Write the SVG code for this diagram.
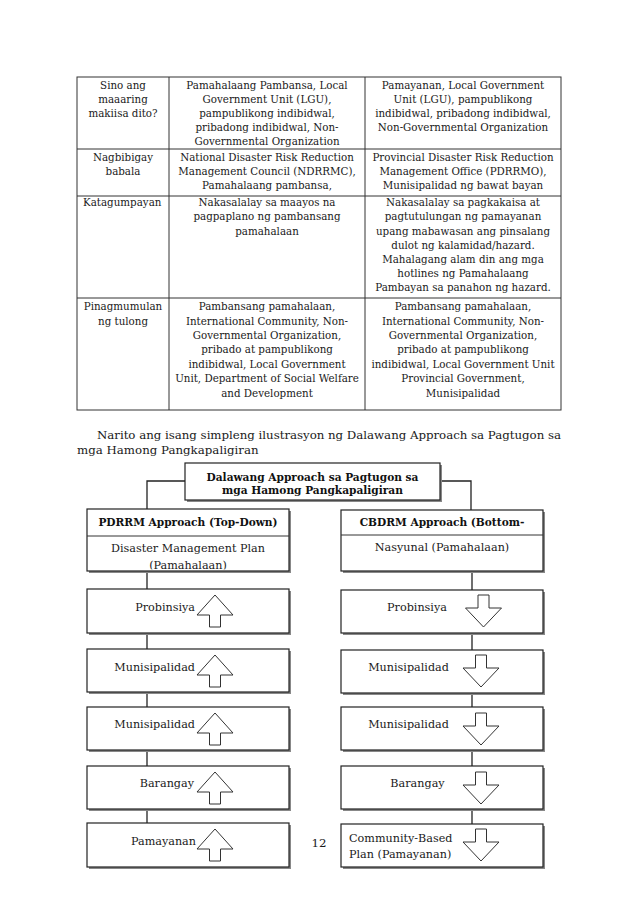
<svg xmlns="http://www.w3.org/2000/svg" width="638" height="902" viewBox="0 0 638 902">
<style>
.t{font-family:"DejaVu Serif","Liberation Serif",serif;font-size:10.3px;fill:#1a1a1a}
.c{text-anchor:middle}
.e{text-anchor:end}
.p{font-size:11.8px}
.d{font-size:11.2px}
.b{font-weight:bold;font-size:10.6px;fill:#111}
.grid{stroke:#333;stroke-width:1;fill:none}
.box{fill:#fff;stroke:#222;stroke-width:1.2}
.sh{fill:#888}
.arr{fill:#fff;stroke:#333;stroke-width:1}
.con{stroke:#222;stroke-width:1.3;fill:none}
</style>
<defs>
<clipPath id="clipL"><rect x="87" y="536" width="202" height="33.5"/></clipPath>
<path id="up" d="M0,0 L18,20 L5.5,20 L5.5,32 L-5.5,32 L-5.5,20 L-18,20 Z"/>
<path id="dn" d="M-5.5,0 L5.5,0 L5.5,13 L18,13 L0,32 L-18,13 L-5.5,13 Z"/>
</defs>
<rect width="638" height="902" fill="#fff"/>

<g id="table">
<rect class="grid" x="77" y="77" width="484" height="333"/>
<line class="grid" x1="169" y1="77" x2="169" y2="410"/>
<line class="grid" x1="365" y1="77" x2="365" y2="410"/>
<line class="grid" x1="77" y1="149" x2="561" y2="149"/>
<line class="grid" x1="77" y1="196" x2="561" y2="196"/>
<line class="grid" x1="77" y1="298" x2="561" y2="298"/>
<g class="t c">
<text x="123" y="88.5">Sino ang</text>
<text x="123" y="102.7">maaaring</text>
<text x="123" y="116.9">makiisa dito?</text>
<text x="267" y="88.5">Pamahalaang Pambansa, Local</text>
<text x="267" y="102.7">Government Unit (LGU),</text>
<text x="267" y="116.9">pampublikong indibidwal,</text>
<text x="267" y="131.1">pribadong indibidwal, Non-</text>
<text x="267" y="145.3">Governmental Organization</text>
<text x="463" y="88.5">Pamayanan, Local Government</text>
<text x="463" y="102.7">Unit (LGU), pampublikong</text>
<text x="463" y="116.9">indibidwal, pribadong indibidwal,</text>
<text x="463" y="131.1">Non-Governmental Organization</text>
<text x="123" y="161">Nagbibigay</text>
<text x="123" y="175">babala</text>
<text x="267" y="161">National Disaster Risk Reduction</text>
<text x="267" y="175">Management Council (NDRRMC),</text>
<text x="267" y="189">Pamahalaang pambansa,</text>
<text x="463" y="161">Provincial Disaster Risk Reduction</text>
<text x="463" y="175">Management Office (PDRRMO),</text>
<text x="463" y="189">Munisipalidad ng bawat bayan</text>
<text x="267" y="206.2">Nakasalalay sa maayos na</text>
<text x="267" y="220.4">pagpaplano ng pambansang</text>
<text x="267" y="234.6">pamahalaan</text>
<text x="463" y="206.2">Nakasalalay sa pagkakaisa at</text>
<text x="463" y="220.4">pagtutulungan ng pamayanan</text>
<text x="463" y="234.6">upang mabawasan ang pinsalang</text>
<text x="463" y="248.8">dulot ng kalamidad/hazard.</text>
<text x="463" y="263">Mahalagang alam din ang mga</text>
<text x="463" y="277.2">hotlines ng Pamahalaang</text>
<text x="463" y="291.4">Pambayan sa panahon ng hazard.</text>
<text x="123" y="310.2">Pinagmumulan</text>
<text x="123" y="324.6">ng tulong</text>
<text x="267" y="310.2">Pambansang pamahalaan,</text>
<text x="267" y="324.6">International Community, Non-</text>
<text x="267" y="339">Governmental Organization,</text>
<text x="267" y="353.4">pribado at pampublikong</text>
<text x="267" y="367.8">indibidwal, Local Government</text>
<text x="267" y="382.2">Unit, Department of Social Welfare</text>
<text x="267" y="396.6">and Development</text>
<text x="463" y="310.2">Pambansang pamahalaan,</text>
<text x="463" y="324.6">International Community, Non-</text>
<text x="463" y="339">Governmental Organization,</text>
<text x="463" y="353.4">pribado at pampublikong</text>
<text x="463" y="367.8">indibidwal, Local Government Unit</text>
<text x="463" y="382.2">Provincial Government,</text>
<text x="463" y="396.6">Munisipalidad</text>
</g>
<text class="t" x="83" y="206.2">Katagumpayan</text>
</g>

<g id="paragraph">
<text class="t p" x="97" y="439" textLength="464" lengthAdjust="spacing">Narito ang isang simpleng ilustrasyon ng Dalawang Approach sa Pagtugon sa</text>
<text class="t p" x="77" y="454">mga Hamong Pangkapaligiran</text>
</g>

<g id="connectors">
<polyline class="con" points="185,481 147,481 147,509"/>
<polyline class="con" points="440,481 471,481 471,510"/>
<line class="con" x1="147" y1="571" x2="147" y2="589"/>
<line class="con" x1="147" y1="633" x2="147" y2="649"/>
<line class="con" x1="147" y1="692" x2="147" y2="707"/>
<line class="con" x1="147" y1="750" x2="147" y2="766"/>
<line class="con" x1="147" y1="809" x2="147" y2="823"/>
<line class="con" x1="472" y1="571" x2="472" y2="590"/>
<line class="con" x1="472" y1="633" x2="472" y2="650"/>
<line class="con" x1="472" y1="693" x2="472" y2="707"/>
<line class="con" x1="472" y1="750" x2="472" y2="766"/>
<line class="con" x1="472" y1="809" x2="472" y2="824"/>
</g>

<g id="title">
<rect class="sh" x="187" y="465" width="255" height="37"/>
<rect class="box" x="185" y="463" width="255" height="37"/>
<text class="t b c" x="312.5" y="480.5">Dalawang Approach sa Pagtugon sa</text>
<text class="t b c" x="312.5" y="494">mga Hamong Pangkapaligiran</text>
</g>

<g id="pdrrm">
<rect class="sh" x="89" y="511" width="202" height="62"/>
<rect class="box" x="87" y="509" width="202" height="62"/>
<line class="grid" x1="87" y1="536" x2="289" y2="536"/>
<text class="t b c" x="188" y="526">PDRRM Approach (Top-Down)</text>
<g clip-path="url(#clipL)">
<text class="t d c" x="188" y="552">Disaster Management Plan</text>
<text class="t d c" x="188" y="568.5">(Pamahalaan)</text>
</g>
</g>

<g id="cbdrm">
<rect class="sh" x="343" y="512" width="202" height="61"/>
<rect class="box" x="341" y="510" width="202" height="61"/>
<line class="grid" x1="341" y1="535" x2="543" y2="535"/>
<text class="t b c" x="442" y="526">CBDRM Approach (Bottom-</text>
<text class="t d c" x="442" y="551">Nasyunal (Pamahalaan)</text>
</g>

<g id="l-probinsiya">
<rect class="sh" x="89" y="591" width="202" height="44"/>
<rect class="box" x="87" y="589" width="202" height="44"/>
<text class="t d e" x="195" y="611">Probinsiya</text>
<use href="#up" class="arr" x="215" y="595"/>
</g>
<g id="l-munisipalidad1">
<rect class="sh" x="89" y="651" width="202" height="43"/>
<rect class="box" x="87" y="649" width="202" height="43"/>
<text class="t d e" x="195" y="671">Munisipalidad</text>
<use href="#up" class="arr" x="215" y="655"/>
</g>
<g id="l-munisipalidad2">
<rect class="sh" x="89" y="709" width="202" height="43"/>
<rect class="box" x="87" y="707" width="202" height="43"/>
<text class="t d e" x="195" y="728">Munisipalidad</text>
<use href="#up" class="arr" x="215" y="713"/>
</g>
<g id="l-barangay">
<rect class="sh" x="89" y="768" width="202" height="43"/>
<rect class="box" x="87" y="766" width="202" height="43"/>
<text class="t d e" x="194" y="787">Barangay</text>
<use href="#up" class="arr" x="215" y="772"/>
</g>
<g id="l-pamayanan">
<rect class="sh" x="89" y="825" width="202" height="44"/>
<rect class="box" x="87" y="823" width="202" height="44"/>
<text class="t d e" x="196" y="845">Pamayanan</text>
<use href="#up" class="arr" x="215" y="829"/>
</g>

<g id="r-probinsiya">
<rect class="sh" x="343" y="592" width="202" height="43"/>
<rect class="box" x="341" y="590" width="202" height="43"/>
<text class="t d c" x="417" y="611">Probinsiya</text>
<use href="#dn" class="arr" x="483.5" y="595"/>
</g>
<g id="r-munisipalidad1">
<rect class="sh" x="343" y="652" width="202" height="43"/>
<rect class="box" x="341" y="650" width="202" height="43"/>
<text class="t d c" x="408.5" y="671">Munisipalidad</text>
<use href="#dn" class="arr" x="481" y="655"/>
</g>
<g id="r-munisipalidad2">
<rect class="sh" x="343" y="709" width="202" height="43"/>
<rect class="box" x="341" y="707" width="202" height="43"/>
<text class="t d c" x="408.5" y="728">Munisipalidad</text>
<use href="#dn" class="arr" x="481" y="713"/>
</g>
<g id="r-barangay">
<rect class="sh" x="343" y="768" width="202" height="43"/>
<rect class="box" x="341" y="766" width="202" height="43"/>
<text class="t d c" x="417.5" y="787">Barangay</text>
<use href="#dn" class="arr" x="481" y="772"/>
</g>
<g id="r-community">
<rect class="sh" x="343" y="826" width="202" height="43"/>
<rect class="box" x="341" y="824" width="202" height="43"/>
<text class="t d" x="349" y="842">Community-Based</text>
<text class="t d" x="349" y="857.5">Plan (Pamayanan)</text>
<use href="#dn" class="arr" x="481" y="829"/>
</g>

<text class="t p c" x="319" y="847">12</text>
</svg>
